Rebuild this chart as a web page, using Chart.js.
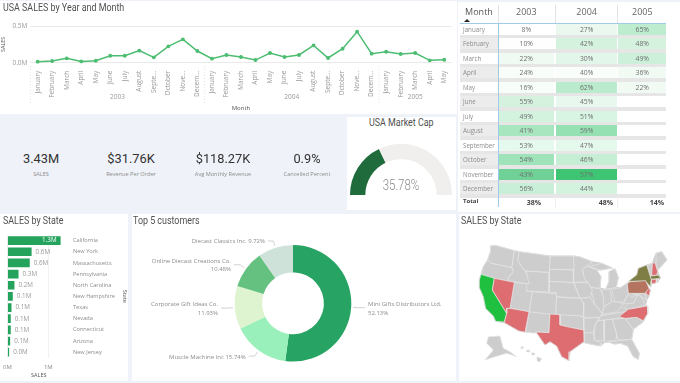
<!DOCTYPE html>
<html><head><meta charset="utf-8">
<script src="https://cdn.jsdelivr.net/npm/chart.js@4"></script>
<style>
html,body{margin:0;padding:0;width:680px;height:383px;overflow:hidden;background:#eff2f8}
body{position:relative;font-family:"Open Sans",sans-serif;color:#555}
.p{position:absolute;background:#fff}
.t{position:absolute;font-family:Roboto,sans-serif;font-size:10px;color:#505050;white-space:nowrap;line-height:12px;transform:scaleX(.89);transform-origin:left center}
canvas{position:absolute;display:block}
.k{position:absolute;text-align:center;transform:translateX(-50%);white-space:nowrap}
.kv{font-family:Roboto,sans-serif;font-size:12.8px;color:#333;line-height:16px}
.kl{font-size:5.6px;color:#8c8c8c;line-height:10px;margin-top:2px}
.c{position:absolute;text-align:center;font-size:6.8px;line-height:11px;color:#707070;white-space:nowrap}
.s{position:absolute;background:#e6e6e6}
</style></head><body>
<div class="p" style="left:0;top:1px;width:457px;height:113px"></div>
<div class="p" style="left:347px;top:117px;width:109px;height:93px"></div>
<div class="p" style="left:458px;top:2px;width:222px;height:210px" id="tbl"></div>
<div class="p" style="left:0;top:214px;width:128px;height:167px"></div>
<div class="p" style="left:132px;top:214px;width:324px;height:167px"></div>
<div class="p" style="left:459px;top:214px;width:221px;height:167px"></div>

<canvas id="line" width="457" height="114" style="left:0;top:0"></canvas>
<canvas id="gauge" width="102" height="51" style="left:350px;top:144px"></canvas>
<canvas id="bar" width="128" height="167" style="left:0;top:214px"></canvas>
<canvas id="donut" width="324" height="167" style="left:132px;top:214px"></canvas>
<canvas id="map" width="225" height="173" style="left:455px;top:210px"></canvas>

<div class="t" style="left:3px;top:1.5px">USA SALES by Year and Month</div>
<div class="t" style="left:369px;top:117px">USA Market Cap</div>
<div class="t" style="left:3px;top:215px">SALES by State</div>
<div class="t" style="left:133px;top:215px">Top 5 customers</div>
<div class="t" style="left:461px;top:215px">SALES by State</div>
<div id="gv" style="position:absolute;left:350px;width:102px;top:176px;text-align:center;font-family:Roboto,sans-serif;font-size:14px;font-weight:300;line-height:18px;color:#8a8a8a;transform:scaleX(.82)"></div>
<div id="kpis"></div>
<div id="table"></div>

<script>
// ---- line chart
const lineMonths = ["January","February","March","April","May","June","July","August","Septe...","October","Nove...","Decem...",
  "January","February","March","April","May","June","July","August","Septe...","October","Nove...","Decem...",
  "January","February","March","April","May"];
const lineSales = [.014,.023,.059,.018,.027,.095,.095,.164,.073,.223,.318,.159,
  .055,.105,.077,.036,.132,.077,.105,.236,.064,.191,.423,.123,
  .15,.118,.132,.032,.041];
const yearLabels = ["2003","2004","2005"];
const yearCounts = [12,12,5];
// ---- KPIs
const kpiValues = ["3.43M","$31.76K","$118.27K","0.9%"];
const kpiNames = ["SALES","Revenue Per Order","Avg Monthly Revenue","Cancelled Percent"];
// ---- gauge
const gaugeValue = 35.78;
// ---- table
const tableMonths = ["January","February","March","April","May","June","July","August","September","October","November","December"];
const tableYears = ["2003","2004","2005"];
const share2003 = ["8%","10%","22%","24%","16%","55%","49%","41%","53%","54%","43%","56%"];
const share2004 = ["27%","42%","30%","40%","62%","45%","51%","59%","47%","46%","57%","44%"];
const share2005 = ["65%","48%","49%","36%","22%","","","","","","",""];
const shareTotals = ["38%","48%","14%"];
const heat2003 = ["#ffffff","#fdfefd","#eefaf2","#f8fdf9","#f7fdf9","#d5f2df","#d3f3df","#a8e6c0","#e6f9ee","#9fe3bb","#6fd196","#c9efd8"];
const heat2004 = ["#eaf8ef","#d5f2df","#e3f6ea","#fafefb","#b9ebcc","#e8f8ee","#d8f4e3","#96e1b4","#e5f8ec","#c5eed5","#3ec574","#d3f3df"];
const heat2005 = ["#bdeccf","#d5f2df","#ccf0da","#f1fbf4","#f1fbf4","#fff","#fff","#fff","#fff","#fff","#fff","#fff"];
// ---- bar
const barStates = ["California","New York","Massachusetts","Pennsylvania","North Carolina","New Hampshire","Texas","Nevada","Connecticut","Arizona","New Jersey"];
const barSales = [1.3,.59,.545,.27,.17,.13,.098,.08,.08,.065,.04];
const barLabels = ["1.3M","0.6M","0.6M","0.3M","0.2M","0.1M","0.1M","0.1M","0.1M","0.1M","0.0M"];
// ---- donut
const customerNames = ["Mini Gifts Distributors Ltd.","Muscle Machine Inc","Corporate Gift Ideas Co.","Online Diecast Creations Co.","Diecast Classics Inc."];
const customerShares = [52.13,15.74,11.93,10.48,9.72];
const customerColors = ["#27a463","#9af0ba","#def3cf","#65c180","#cfe2d9"];
// ---- map (state outlines, map units)
const GREY="#cdcdcd",RED="#dd6d70",GREEN="#1fbf40",OLIVE="#7f7f45",BROWN="#b57460";
const usOutline = [[107,108],[120,106],[178,122],[192,125],[285,138],[355,138],[372,140],[412,155],[440,160],[472,174],[437,180],[425,180],[438,200],[435,235],[452,238],[462,215],[462,185],[480,176],[490,202],[484,232],[497,233],[516,220],[525,212],[545,195],[550,175],[575,165],[592,160],[603,130],[620,125],[636,150],[610,178],[608,185],[617,205],[604,218],[590,222],[576,226],[586,240],[582,258],[575,270],[572,285],[577,288],[578,310],[565,335],[535,358],[530,388],[553,430],[550,448],[535,440],[518,408],[497,400],[478,402],[460,396],[447,398],[438,408],[405,402],[388,398],[387,395],[345,425],[342,452],[320,440],[305,408],[285,395],[270,405],[243,366],[212,366],[190,362],[148,338],[122,334],[115,318],[92,295],[85,260],[74,235],[73,210],[78,193],[85,170],[98,150],[105,128]];
const stateShapes = {
 WA:[[107,108],[120,106],[178,122],[170,172],[135,165],[110,160],[98,150],[105,128]],
 OR:[[98,150],[110,160],[135,165],[170,172],[175,185],[162,200],[158,213],[118,205],[78,193],[85,170]],
 ID:[[178,122],[192,125],[188,150],[205,178],[215,190],[222,222],[158,213],[162,200],[175,185],[170,172]],
 MT:[[192,125],[285,138],[283,187],[215,183],[205,178],[188,150]],
 WY:[[215,183],[283,187],[282,246],[213,243]],
 UT:[[168,216],[222,222],[216,243],[232,245],[222,305],[165,295]],
 CO:[[232,245],[305,252],[302,315],[222,305]],
 NM:[[222,305],[285,310],[282,368],[243,366],[240,370],[212,366]],
 OK:[[285,312],[378,318],[386,326],[386,360],[345,352],[315,345],[315,322],[285,318]],
 KS:[[304,262],[375,265],[386,280],[386,320],[302,315]],
 NE:[[283,214],[355,218],[375,265],[304,260],[305,248],[282,246]],
 SD:[[283,178],[357,180],[355,218],[283,214]],
 ND:[[285,138],[355,138],[358,178],[283,178]],
 MN:[[355,138],[372,140],[412,155],[382,178],[388,205],[397,216],[357,216]],
 IA:[[357,218],[400,218],[412,240],[405,262],[375,265]],
 MO:[[375,265],[405,262],[420,285],[441,310],[435,322],[386,322],[386,280]],
 AR:[[386,325],[433,322],[420,345],[415,368],[388,368]],
 LA:[[388,368],[415,368],[418,390],[440,400],[438,408],[405,402],[388,398]],
 WI:[[382,178],[397,168],[425,180],[438,200],[435,235],[405,232],[397,216],[388,205]],
 IL:[[405,232],[435,235],[445,262],[447,288],[441,310],[420,285],[412,255]],
 IN:[[440,240],[465,238],[470,275],[447,290]],
 MIU:[[400,170],[440,160],[472,174],[437,180]],
 MI:[[462,185],[480,176],[490,202],[484,232],[452,238],[462,215]],
 OH:[[470,238],[497,233],[516,220],[520,252],[505,276],[480,275]],
 KY:[[447,290],[470,275],[490,275],[505,283],[487,305],[441,314]],
 TN:[[437,318],[510,305],[520,300],[495,325],[470,327],[430,332]],
 MS:[[420,345],[430,332],[447,330],[447,392],[420,392],[418,375]],
 AL:[[447,330],[472,327],[485,375],[482,392],[460,392],[447,398]],
 GA:[[472,327],[510,325],[535,358],[530,388],[490,390],[485,375]],
 FL:[[460,396],[490,392],[530,388],[553,430],[550,448],[535,440],[518,408],[497,400],[478,402]],
 SC:[[510,325],[545,322],[565,335],[535,358]],
 NC:[[492,320],[520,298],[577,288],[578,310],[565,332],[545,322],[510,325]],
 VA:[[505,295],[520,280],[535,280],[548,255],[560,262],[572,285],[520,298]],
 WV:[[505,280],[520,252],[530,262],[550,252],[535,280],[520,280]],
 MD:[[530,252],[570,250],[575,270],[562,262],[550,252]],
 PA:[[517,222],[525,215],[572,212],[582,235],[570,250],[520,250]],
 NY:[[520,214],[545,195],[550,175],[575,165],[590,212],[588,232],[572,214]],
 VT:[[578,165],[592,160],[590,197],[585,197]],
 NH:[[592,160],[600,158],[608,185],[605,195],[590,197]],
 ME:[[603,130],[620,125],[636,150],[610,178],[605,172]],
 MA:[[585,198],[610,195],[617,205],[588,208]],
 CT:[[590,208],[604,207],[604,218],[590,222]],
 RI:[[604,207],[612,207],[610,217],[604,218]],
 NJ:[[576,226],[586,240],[582,258],[572,250]],
 AK:[[100,380],[135,378],[145,415],[165,425],[185,440],[155,430],[120,440],[90,450],[115,420],[95,400]],
 HIa:[[198,410],[204,410],[204,416],[198,416]],
 HIb:[[215,420],[224,420],[224,426],[215,426]],
 HIc:[[230,428],[240,430],[238,436],[230,434]],
 HId:[[246,440],[260,446],[254,456],[246,452]],
 NV:[[118,205],[178,217],[165,295],[155,295],[155,310],[112,240]],
 AZ:[[165,295],[222,305],[210,367],[190,362],[148,338],[155,310],[155,295]],
 TX:[[285,312],[315,314],[315,345],[345,352],[386,360],[387,395],[345,425],[342,452],[320,440],[305,408],[285,395],[270,405],[243,366],[282,368]],
 CA:[[78,193],[118,205],[112,240],[155,310],[148,336],[122,334],[115,318],[92,295],[85,260],[74,235],[73,210]]
};
const stateFill = {NV:RED,AZ:RED,TX:RED,CA:GREEN,NY:OLIVE,PA:BROWN,NC:RED,NH:RED,MA:OLIVE,CT:RED,NJ:RED};

Chart.defaults.animation=false;
Chart.defaults.responsive=false;
Chart.defaults.plugins.legend.display=false;
Chart.defaults.plugins.tooltip.enabled=false;
const UI='"Open Sans",sans-serif';
const fix=(w,h)=>s=>{if(w!=null)s.width=w;if(h!=null)s.height=h;s.paddingLeft=0;s.paddingRight=0;};

// KPI cards
const kpiX=[41,131,223,307];
document.getElementById('kpis').innerHTML=kpiValues.map((v,i)=>
 `<div class="k" style="left:${kpiX[i]}px;top:151px"><div class="kv">${v}</div><div class="kl">${kpiNames[i]}</div></div>`).join('');
document.getElementById('gv').textContent=gaugeValue+'%';

// Line
new Chart(document.getElementById('line'),{type:'line',
 data:{labels:lineMonths,datasets:[{data:lineSales,borderColor:'#4dbd72',backgroundColor:'#4dbd72',borderWidth:1.5,pointRadius:1.2,tension:0}]},
 options:{layout:{padding:{top:26,right:3.2,left:0,bottom:0}},
  clip:false,
  scales:{
   x:{offset:true,grid:{display:false},border:{display:false},afterFit:fix(null,51.3),
      ticks:{autoSkip:false,minRotation:90,maxRotation:90,font:{family:UI,size:6.5},color:'#999',padding:0},
      title:{display:true,text:'Month',font:{family:UI,size:6},color:'#555',padding:{top:0,bottom:2}}},
   y:{min:0,max:.5,afterFit:fix(30.4,null),border:{display:false},
      grid:{color:'#e4e4e4',drawTicks:false,lineWidth:.8},
      afterBuildTicks:s=>{s.ticks=[{value:0},{value:.5}]},
      ticks:{callback:v=>v.toFixed(1)+'M',font:{family:UI,size:6.5},color:'#999',padding:3},
      title:{display:true,text:'SALES',font:{family:UI,size:5.5},color:'#555',padding:{top:0,bottom:1}}}
  }},
 plugins:[{id:'years',afterDraw(c){const x=c.scales.x,ctx=c.ctx;let start=0;ctx.save();
   ctx.font='6.5px '+UI;ctx.textAlign='center';ctx.textBaseline='middle';
   const step=x.width/lineMonths.length;
   yearLabels.forEach((y,i)=>{const a=x.getPixelForValue(start)-step/2,b=x.getPixelForValue(start+yearCounts[i]-1)+step/2;
     ctx.fillStyle='#999';ctx.fillText(y,(a+b)/2,96.7);
     ctx.strokeStyle='#dcdcdc';ctx.lineWidth=.8;ctx.setLineDash([1,2]);ctx.beginPath();ctx.moveTo(a,66);ctx.lineTo(a,103);ctx.stroke();
     start+=yearCounts[i];});
   ctx.restore();}}]});

// Gauge
new Chart(document.getElementById('gauge'),{type:'doughnut',
 data:{datasets:[{data:[gaugeValue,100-gaugeValue],backgroundColor:['#1f6b3b','#f0efed'],borderWidth:0}]},
 options:{rotation:-90,circumference:180,cutout:'70%'}});

// Bar
new Chart(document.getElementById('bar'),{type:'bar',
 data:{labels:barStates,datasets:[{data:barSales,backgroundColor:'#23a35c',barPercentage:.78,categoryPercentage:1}]},
 options:{indexAxis:'y',layout:{padding:{top:21,left:7.5,right:0,bottom:0}},
  scales:{
   x:{min:0,max:1.53,position:'bottom',afterFit:fix(null,23.2),border:{display:false},
      afterBuildTicks:s=>{s.ticks=[{value:0},{value:1}]},
      grid:{color:'#efefef',lineWidth:.8,drawTicks:false},
      ticks:{callback:v=>v+'M',font:{family:UI,size:6},color:'#8a8a8a',padding:6},
      title:{display:true,text:'SALES',font:{family:UI,size:5.5},color:'#555',padding:{top:0,bottom:2}}},
   y:{position:'right',afterFit:fix(58,null),border:{display:false},grid:{display:false,drawTicks:false},
      ticks:{autoSkip:false,font:{family:UI,size:5.6},color:'#8c8c8c',padding:3,crossAlign:'near'},
      title:{display:true,text:'State',font:{family:UI,size:5.5},color:'#555',padding:{top:0,bottom:0}}}
  }},
 plugins:[{id:'vals',afterDatasetsDraw(c){const ctx=c.ctx,m=c.getDatasetMeta(0);ctx.save();ctx.font='6.3px '+UI;ctx.textBaseline='middle';
   m.data.forEach((b,i)=>{const inside=b.x>50;ctx.textAlign=inside?'right':'left';ctx.fillStyle=inside?'#fff':'#999';
     ctx.fillText(barLabels[i],inside?b.x-4:b.x+4,b.y);});ctx.restore();}}]});

// Donut
const donutLabels=[
 {side:'l',x:236,lines:[customerNames[0],customerShares[0]+'%'],ys:[90.3,99]},
 {side:'r',x:113.7,lines:[customerNames[1]+' '+customerShares[1]+'%'],ys:[143]},
 {side:'r',x:86,lines:[customerNames[2],customerShares[2]+'%'],ys:[90.3,99]},
 {side:'r',x:99,lines:[customerNames[3],customerShares[3]+'%'],ys:[47,55.5]},
 {side:'r',x:133,lines:[customerNames[4]+' '+customerShares[4]+'%'],ys:[27]}];
new Chart(document.getElementById('donut'),{type:'doughnut',
 data:{labels:customerNames,datasets:[{data:customerShares,backgroundColor:customerColors,borderWidth:0}]},
 options:{cutout:'53%',layout:{padding:{left:102.7,right:104.7,top:31,bottom:19.4}}},
 plugins:[{id:'lbl',afterDatasetsDraw(c){const ctx=c.ctx,m=c.getDatasetMeta(0);ctx.save();ctx.font='6px '+UI;ctx.textBaseline='middle';
   m.data.forEach((a,i)=>{const L=donutLabels[i],ang=(a.startAngle+a.endAngle)/2,cx=a.x,cy=a.y,R=a.outerRadius;
     const sx=cx+Math.cos(ang)*(R+2),sy=cy+Math.sin(ang)*(R+2),ex=cx+Math.cos(ang)*(R+7),ey=cy+Math.sin(ang)*(R+7);
     ctx.strokeStyle='#bdbdbd';ctx.lineWidth=.7;ctx.beginPath();ctx.moveTo(sx,sy);ctx.lineTo(ex,ey);
     ctx.lineTo(L.side==='l'?L.x-3:L.x+3,ey);ctx.stroke();
     ctx.fillStyle='#8c8c8c';ctx.textAlign=L.side==='l'?'left':'right';
     L.lines.forEach((t,j)=>ctx.fillText(t,L.x,L.ys[j]));});ctx.restore();}}]});

// Map
const toPts=a=>{const p=a.map(q=>({x:q[0],y:q[1]}));p.push(p[0]);return p;};
new Chart(document.getElementById('map'),{type:'scatter',
 data:{datasets:[{label:'US',data:toPts(usOutline),showLine:true,tension:0,pointRadius:0,fill:'shape',
     backgroundColor:GREY,borderColor:GREY,borderWidth:1,order:3}].concat(
   Object.keys(stateShapes).map(k=>({label:k,data:toPts(stateShapes[k]),showLine:true,tension:0,pointRadius:0,fill:'shape',
     backgroundColor:stateFill[k]||GREY,borderColor:'#e6e6e6',borderWidth:.7,order:stateFill[k]?1:2})))},
 options:{scales:{x:{display:false,min:0,max:675},y:{display:false,min:0,max:519,reverse:true}}}});

// Table
(function(){
 const colX=[498.3,556.3,618.3],colW=[56,60.7,48];
 const heats=[heat2003,heat2004,heat2005],vals=[share2003,share2004,share2005];
 let h='';
 h+=`<div class="c" style="left:462px;top:5px;width:34px;font-size:9px;line-height:14px;color:#555">Month</div>`;
 h+=`<div style="position:absolute;left:464px;top:19px;width:0;height:0;border-left:3px solid transparent;border-right:3px solid transparent;border-bottom:3px solid #222"></div>`;
 tableYears.forEach((y,i)=>{h+=`<div class="c" style="left:${colX[i]}px;top:5px;width:${colW[i]}px;font-size:9px;line-height:14px;color:#666">${y}</div>`;});
 [497.5,555.3,617.3].forEach(x=>{h+=`<div class="s" style="left:${x}px;top:5px;width:1px;height:18px;background:#e2e2e2"></div>`;});
 tableMonths.forEach((m,r)=>{
  const top=23.7+r*14.5;
  h+=`<div class="s" style="left:460px;top:${top+11}px;width:206.3px;height:3.5px"></div>`;
  h+=`<div class="c" style="left:460px;top:${top}px;width:38px;height:11px;text-align:left;padding-left:3px;box-sizing:border-box;font-size:6.2px;color:#8c8c8c;background:${r%2?'#ececec':'#fff'}">${m}</div>`;
  for(let i=0;i<3;i++){h+=`<div class="c" style="left:${colX[i]}px;top:${top}px;width:${colW[i]}px;height:11px;background:${heats[i][r]}">${vals[i][r]}</div>`;}
 });
 h+=`<div class="c" style="left:463px;top:196px;font-size:6px;font-weight:700;color:#444">Total</div>`;
 const rx=[541,613,664];
 shareTotals.forEach((t,i)=>{h+=`<div class="c" style="left:${rx[i]-28}px;width:28px;text-align:right;top:197px;font-size:7px;font-weight:700;color:#444">${t}</div>`;});
 [555.3,617.3].forEach(x=>{h+=`<div class="s" style="left:${x}px;top:196px;width:1px;height:12px;background:#eee"></div>`;});
 h+=`<div class="s" style="left:460px;top:23px;width:206.3px;height:.8px;background:#9fcbe9"></div>`;
 h+=`<div class="s" style="left:498px;top:23px;width:.8px;height:184px;background:#9fcbe9"></div>`;
 document.getElementById('table').innerHTML=h;
})();
</script></body></html>
